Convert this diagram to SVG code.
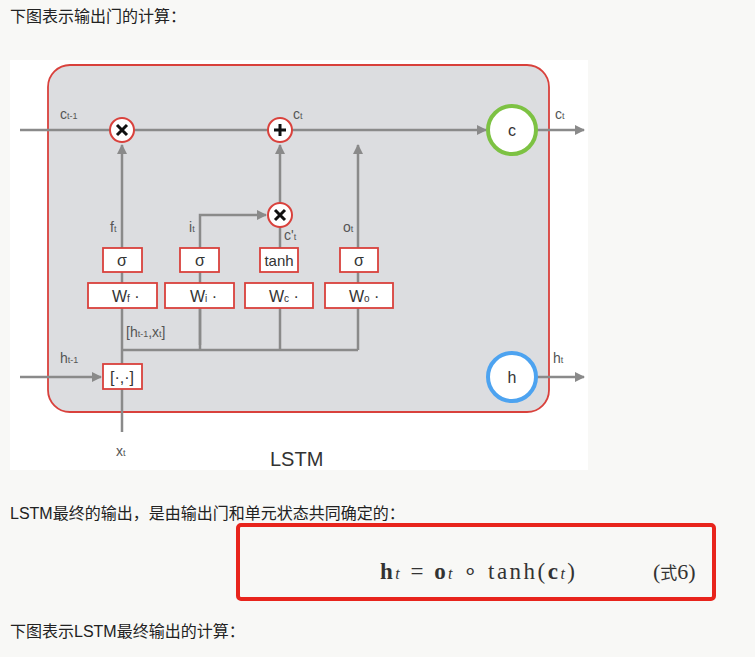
<svg xmlns="http://www.w3.org/2000/svg" width="755" height="657" viewBox="0 0 755 657">
<defs>
<marker id="ah" viewBox="0 0 10 10" refX="9" refY="5" markerWidth="4" markerHeight="4" orient="auto"><path d="M0,0 L10,5 L0,10 z" fill="#8a8a8a"/></marker>
<style>
.ln{stroke:#8a8a8a;stroke-width:2.5;fill:none}
.bx{fill:#fff;stroke:#d9413c;stroke-width:1.8}
.t{font-family:"Liberation Sans",Arial,sans-serif;fill:#333}
.s{font-size:14px;fill:#555}
.cn{font-family:"Liberation Sans","Noto Sans CJK SC",sans-serif;font-size:16px;fill:#222}
.m{font-family:"Liberation Serif",serif;fill:#333}
</style>
</defs>
<rect width="755" height="657" fill="#f8f8f6"/>
<text class="cn" x="10" y="22">下图表示输出门的计算：</text>
<rect x="10" y="60" width="578" height="410" fill="#fff"/>
<rect x="48" y="65" width="501" height="347" rx="22" fill="#dcdde0" stroke="#d9413c" stroke-width="1.8"/>
<g id="connectors">
<path class="ln" d="M20,130 H486" marker-end="url(#ah)"/>
<path class="ln" d="M536,130 H584" marker-end="url(#ah)"/>
<path class="ln" d="M536,377 H584" marker-end="url(#ah)"/>
<path class="ln" d="M20,377 H101" marker-end="url(#ah)"/>
<path class="ln" d="M122,432 V145" marker-end="url(#ah)"/>
<path class="ln" d="M280,203 V145" marker-end="url(#ah)"/>
<path class="ln" d="M358,350 V145" marker-end="url(#ah)"/>
<path class="ln" d="M200,345 V215 H266" marker-end="url(#ah)"/>
<path class="ln" d="M280,248 V227"/>
<path class="ln" d="M122,350 H358 M200,350 V308 M280,350 V308"/>
</g>
<g id="mulf"><circle cx="122" cy="130" r="12" fill="#fff" stroke="#d9413c" stroke-width="2"/><path d="M117,125 L127,135 M127,125 L117,135" stroke="#111" stroke-width="3"/></g>
<g id="plus"><circle cx="280" cy="130" r="12" fill="#fff" stroke="#d9413c" stroke-width="2"/><path d="M274,130 H286 M280,124 V136" stroke="#111" stroke-width="3"/></g>
<g id="muli"><circle cx="280" cy="215" r="12" fill="#fff" stroke="#d9413c" stroke-width="2"/><path d="M275,210 L285,220 M285,210 L275,220" stroke="#111" stroke-width="3"/></g>
<g id="c"><circle cx="512" cy="130" r="24" fill="#fff" stroke="#7dc243" stroke-width="4"/><text class="t" x="512" y="136" font-size="16" text-anchor="middle">c</text></g>
<g id="h"><circle cx="512" cy="377" r="24" fill="#fff" stroke="#4da3f0" stroke-width="4"/><text class="t" x="512" y="383" font-size="16" text-anchor="middle">h</text></g>
<g id="sf"><rect class="bx" x="103" y="248" width="39" height="24"/><text class="t" x="122" y="266" font-size="16" text-anchor="middle">σ</text></g>
<g id="si"><rect class="bx" x="180" y="248" width="39" height="24"/><text class="t" x="200" y="266" font-size="16" text-anchor="middle">σ</text></g>
<g id="tanh"><rect class="bx" x="260" y="248" width="38" height="24"/><text class="t" x="279" y="266" font-size="15" text-anchor="middle">tanh</text></g>
<g id="so"><rect class="bx" x="340" y="248" width="38" height="24"/><text class="t" x="359" y="266" font-size="16" text-anchor="middle">σ</text></g>
<g id="wf"><rect class="bx" x="88" y="283" width="69" height="25"/><text class="t" x="112" y="302" font-size="16">W<tspan font-size="10">f</tspan>  ·</text></g>
<g id="wi"><rect class="bx" x="165" y="283" width="69" height="25"/><text class="t" x="190" y="302" font-size="16">W<tspan font-size="10">i</tspan>  ·</text></g>
<g id="wc"><rect class="bx" x="245" y="283" width="68" height="25"/><text class="t" x="269" y="302" font-size="16">W<tspan font-size="10">c</tspan>  ·</text></g>
<g id="wo"><rect class="bx" x="325" y="283" width="68" height="25"/><text class="t" x="349" y="302" font-size="16">W<tspan font-size="10">o</tspan>  ·</text></g>
<g id="concat"><rect class="bx" x="103" y="364" width="39" height="25"/><text class="t" x="122" y="383" font-size="16" text-anchor="middle">[·,·]</text></g>
<g id="labels">
<text class="t s" x="60" y="119">c<tspan font-size="9">t-1</tspan></text>
<text class="t s" x="293" y="119">c<tspan font-size="9">t</tspan></text>
<text class="t s" x="555" y="119">c<tspan font-size="9">t</tspan></text>
<text class="t s" x="110" y="232">f<tspan font-size="9">t</tspan></text>
<text class="t s" x="189" y="232">i<tspan font-size="9">t</tspan></text>
<text class="t s" x="284" y="240">c'<tspan font-size="9">t</tspan></text>
<text class="t s" x="343" y="232">o<tspan font-size="9">t</tspan></text>
<text class="t s" x="126" y="337">[h<tspan font-size="9">t-1</tspan>,x<tspan font-size="9">t</tspan>]</text>
<text class="t s" x="60" y="363">h<tspan font-size="9">t-1</tspan></text>
<text class="t s" x="553" y="363">h<tspan font-size="9">t</tspan></text>
<text class="t s" x="116" y="456">x<tspan font-size="9">t</tspan></text>
<text class="t" x="270" y="466" font-size="20">LSTM</text>
</g>
<text class="cn" x="10" y="519">LSTM最终的输出，是由输出门和单元状态共同确定的：</text>
<rect x="238" y="525" width="476" height="74" fill="none" stroke="#e8241c" stroke-width="4" rx="3"/>
<text class="m" x="380" y="579" font-size="23" textLength="195"><tspan font-weight="bold">h</tspan><tspan font-style="italic" font-size="16">t</tspan> = <tspan font-weight="bold">o</tspan><tspan font-style="italic" font-size="16">t</tspan> ∘ tanh(<tspan font-weight="bold">c</tspan><tspan font-style="italic" font-size="16">t</tspan>)</text>
<text class="m" x="653" y="579" font-size="22">(<tspan font-family="Noto Sans CJK SC" font-size="17">式</tspan>6)</text>
<text class="cn" x="10" y="637">下图表示LSTM最终输出的计算：</text>
</svg>
